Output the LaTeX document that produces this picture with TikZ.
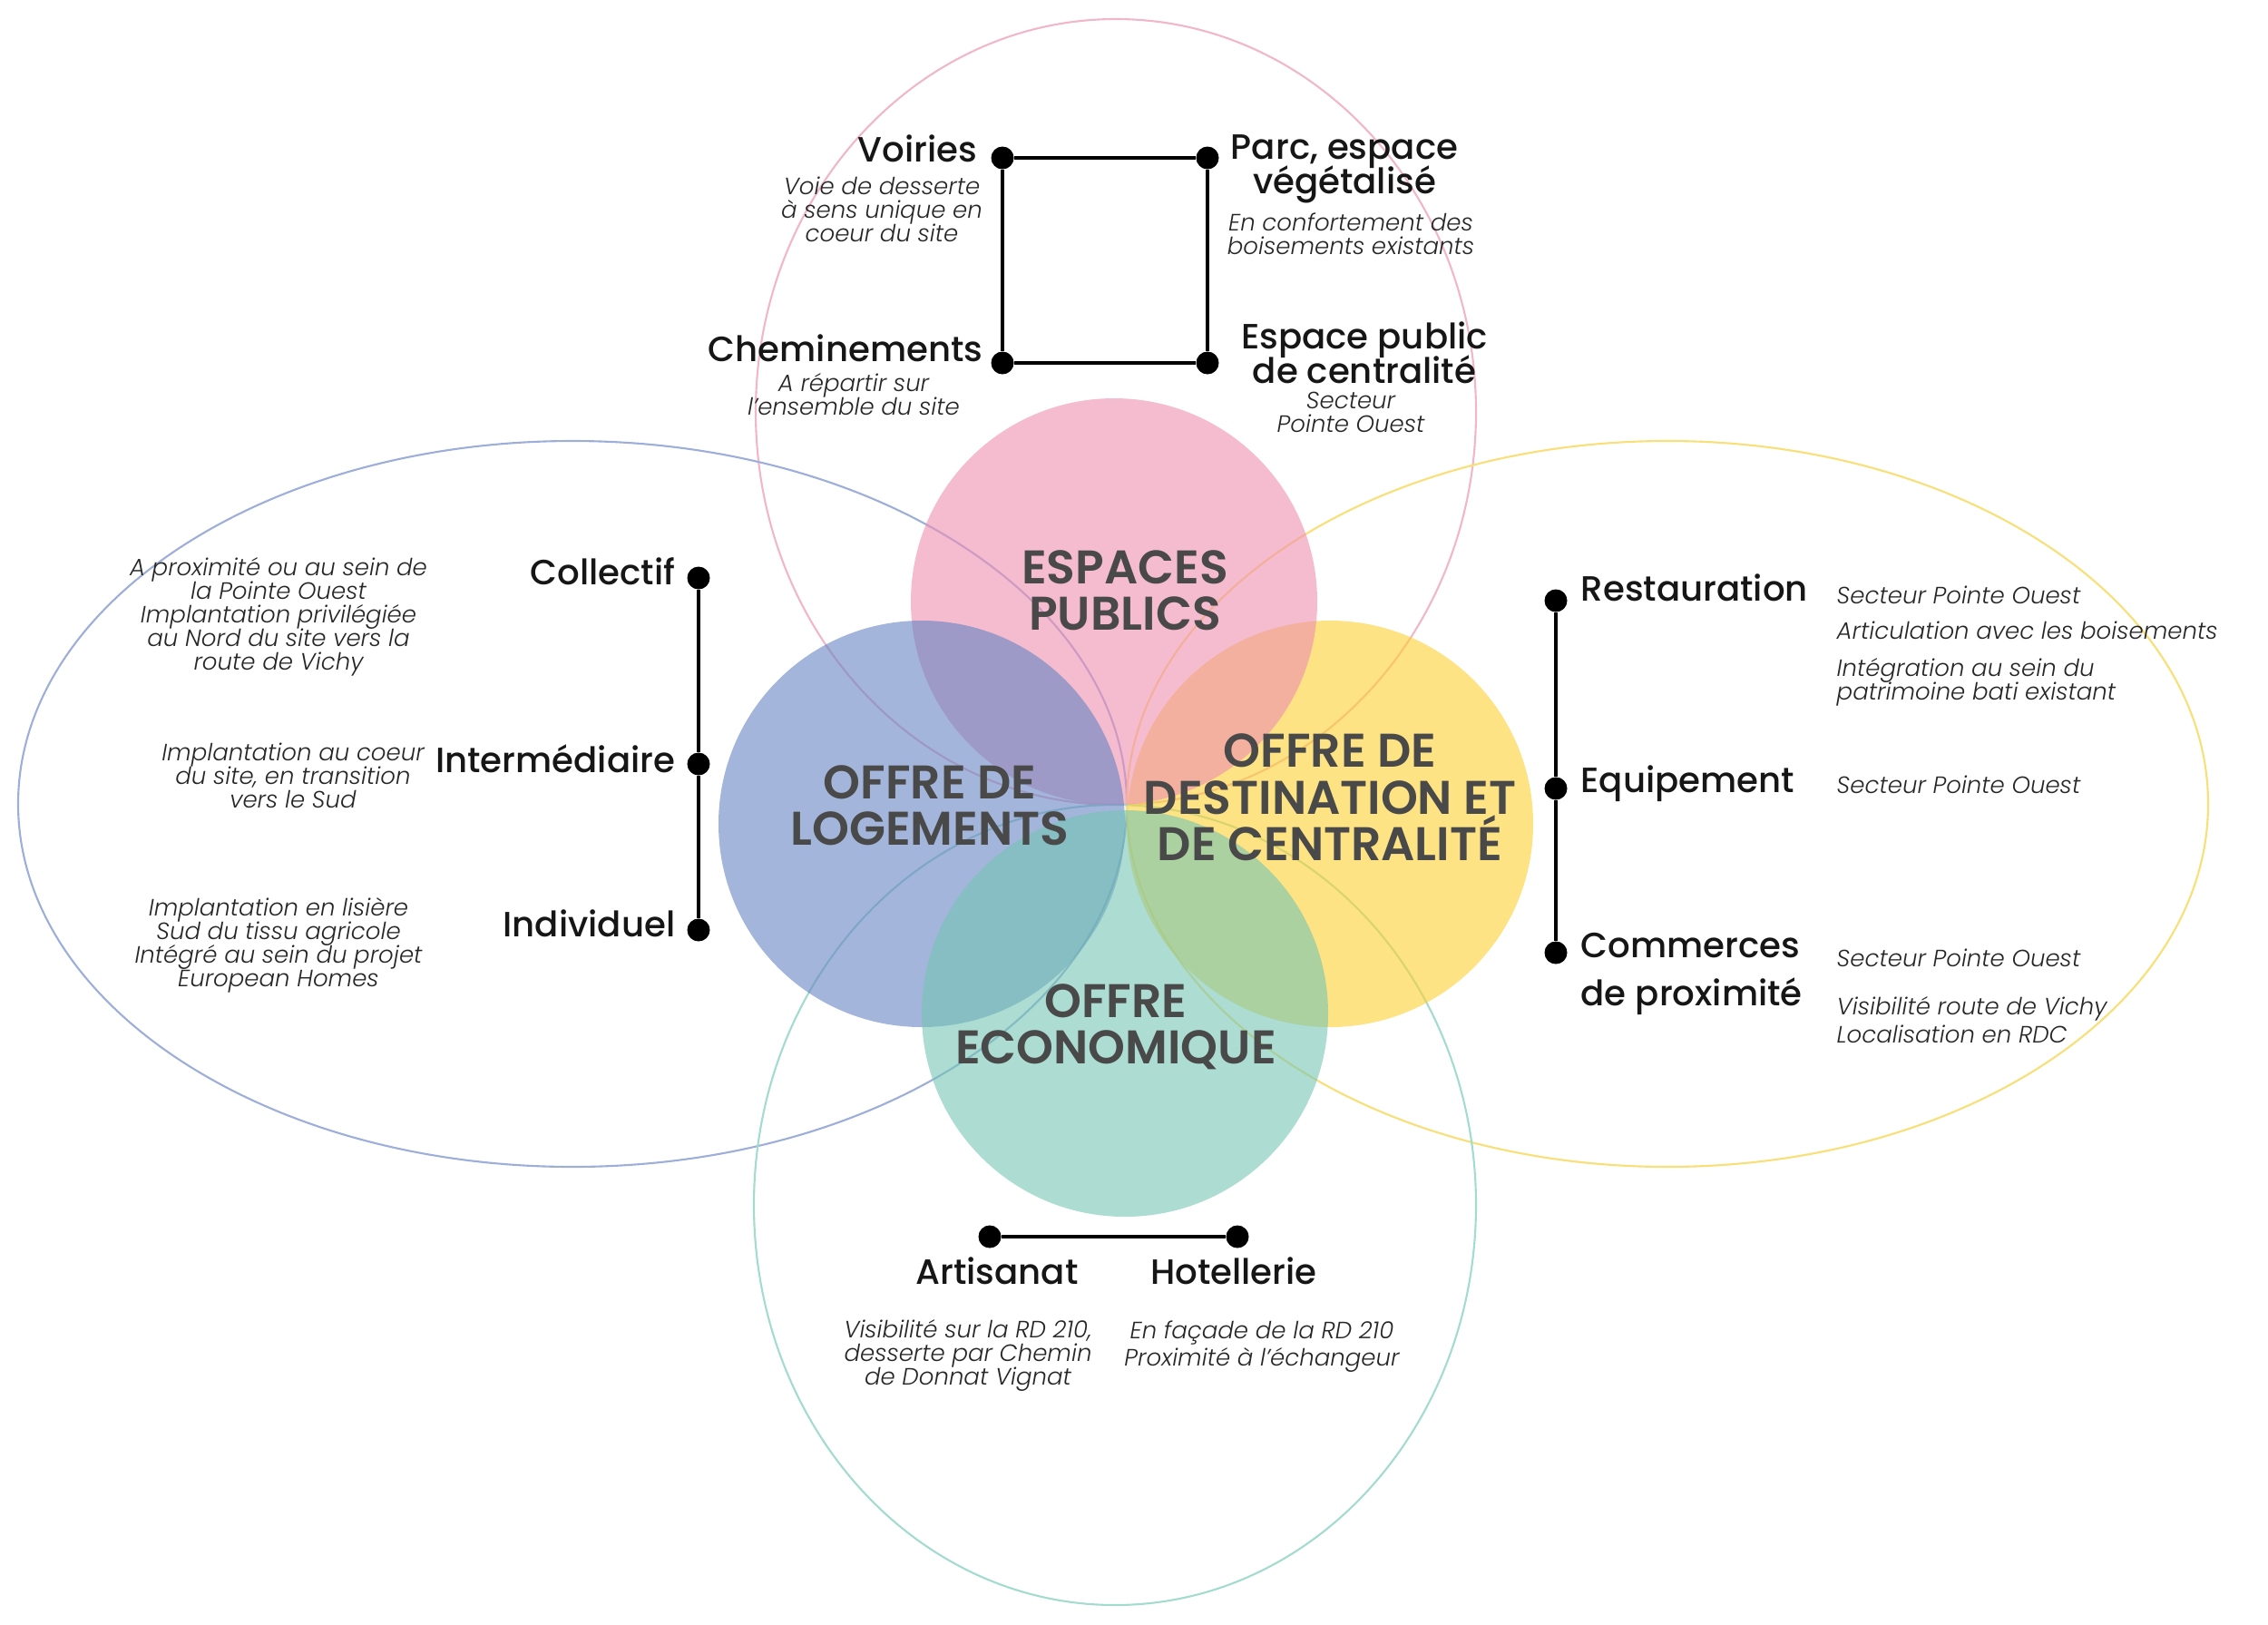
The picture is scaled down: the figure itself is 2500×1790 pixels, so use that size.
\documentclass[tikz,border=0pt]{standalone}
\usepackage{fontspec}
\setmainfont{Poppins}
\newfontfamily\pmed{Poppins Medium}
\newfontfamily\psemi{Poppins SemiBold}
\newfontfamily\plit{Poppins Light Italic}
\definecolor{cpink}{HTML}{EE8FB1}
\definecolor{cblue}{HTML}{6684C1}
\definecolor{cyellow}{HTML}{FCD030}
\definecolor{cteal}{HTML}{75C5B4}
\definecolor{lpink}{HTML}{F2B6CA}
\definecolor{lblue}{HTML}{9CAED9}
\definecolor{lyellow}{HTML}{F8DF78}
\definecolor{lteal}{HTML}{A3DBCE}
\definecolor{titlegray}{HTML}{494949}
\definecolor{ink}{HTML}{161616}
\definecolor{soft}{HTML}{262626}
\newcommand\tightlines{\lineskiplimit=-100pt\relax}
\tikzset{
  outl/.style={line width=0.6pt},
  disc/.style={fill opacity=0.6, draw=none},
  titlebox/.style={inner sep=0pt, align=center, text=titlegray, font=\psemi\fontsize{14.8}{14.6}\selectfont\tightlines},
  headbox/.style={inner sep=0pt, text=ink, font=\pmed\fontsize{11}{10.9}\selectfont\tightlines},
  descbox/.style={inner sep=0pt, text=soft, font=\plit\fontsize{7.4}{7.4}\selectfont\tightlines},
  dot/.style={circle, fill=black, inner sep=0pt, minimum size=0.25cm},
  bar/.style={line width=1.3pt, black}
}
\begin{document}
\begin{tikzpicture}[x=0.01cm, y=-0.01cm]
\useasboundingbox (0,0) rectangle (2500,1790);
% outline ellipses
\draw[outl, lpink] (1230,454) ellipse [x radius=397, y radius=433];
\draw[outl, lblue] (631,886) ellipse [x radius=611, y radius=400];
\draw[outl, lyellow] (1838,886) ellipse [x radius=596, y radius=400];
\draw[outl, lteal] (1229,1328) ellipse [x radius=398, y radius=441];
% discs
\fill[disc, cyellow] (1466,908) circle [radius=224];
\fill[disc, cpink] (1228,663) circle [radius=224];
\fill[disc, cblue] (1016,908) circle [radius=224];
\fill[disc, cteal] (1240,1117) circle [radius=224];
% titles
\node[titlebox] (tEP) at (1240,651) {ESPACES\\PUBLICS};
\node[titlebox] (tLO) at (1025,888) {OFFRE DE\\LOGEMENTS};
\node[titlebox] (tDE) at (1466,879) {OFFRE DE\\DESTINATION ET\\DE CENTRALITÉ};
\node[titlebox] (tEC) at (1230,1132) {OFFRE\\ECONOMIQUE};
% top square
\node[dot] (dV) at (1105,174) {};
\node[dot] (dP) at (1331,174) {};
\node[dot] (dC) at (1105,400) {};
\node[dot] (dE) at (1331,400) {};
\draw[bar] (dV) -- (dP);
\draw[bar] (dV) -- (dC);
\draw[bar] (dP) -- (dE);
\draw[bar] (dC) -- (dE);
\node[headbox, anchor=base east] (hV) at (1078,178) {Voiries};
\node[descbox, align=center] (sV) at (972,231) {Voie de desserte\\à sens unique en\\coeur du site};
\node[headbox, align=center] (hP) at (1482,186) {Parc, espace\\végétalisé};
\node[descbox, align=center] (sP) at (1489,258) {En confortement des\\boisements existants};
\node[headbox, align=center] (hE) at (1504,389) {Espace public\\de centralité};
\node[headbox, anchor=base east] (hC) at (1084,398) {Cheminements};
\node[descbox, align=center] (sC) at (941,435) {A répartir sur\\l’ensemble du site};
\node[descbox, align=center] (sE) at (1489,454) {Secteur\\Pointe Ouest};
% left column
\node[dot] (dCo) at (770,637) {};
\node[dot] (dIn) at (770,842) {};
\node[dot] (dId) at (770,1025) {};
\draw[bar] (dCo) -- (dIn);
\draw[bar] (dIn) -- (dId);
\node[headbox, anchor=base east] (hCo) at (745,644) {Collectif};
\node[headbox, anchor=base east] (hIn) at (745,851) {Intermédiaire};
\node[headbox, anchor=base east] (hId) at (745,1032) {Individuel};
\node[descbox, align=center] (sCo) at (307,680) {A proximité ou au sein de\\la Pointe Ouest\\Implantation privilégiée\\au Nord du site vers la\\route de Vichy};
\node[descbox, align=center] (sIn) at (323,855) {Implantation au coeur\\du site, en transition\\vers le Sud};
\node[descbox, align=center] (sId) at (307,1042) {Implantation en lisière\\Sud du tissu agricole\\Intégré au sein du projet\\European Homes};
% right column
\node[dot] (dRe) at (1715,662) {};
\node[dot] (dEq) at (1715,869) {};
\node[dot] (dCm) at (1715,1050) {};
\draw[bar] (dRe) -- (dEq);
\draw[bar] (dEq) -- (dCm);
\node[headbox, anchor=base west] (hRe) at (1742,662) {Restauration};
\node[headbox, anchor=base west] (hEq) at (1742,873) {Equipement};
\node[headbox, anchor=base west, align=left, font=\pmed\fontsize{11}{15}\selectfont\tightlines] (hCm) at (1742,1108) {Commerces\\de proximité};
\node[descbox, anchor=base west] (sRe1) at (2024,665) {Secteur Pointe Ouest};
\node[descbox, anchor=base west] (sRe2) at (2024,704) {Articulation avec les boisements};
\node[descbox, anchor=west, align=left] (sRe3) at (2024,752) {Intégration au sein du\\patrimoine bati existant};
\node[descbox, anchor=base west] (sEq) at (2024,874) {Secteur Pointe Ouest};
\node[descbox, anchor=base west] (sCm1) at (2024,1065) {Secteur Pointe Ouest};
\node[descbox, anchor=west, align=left, font=\plit\fontsize{7.4}{8.8}\selectfont\tightlines] (sCm2) at (2024,1124) {Visibilité route de Vichy\\Localisation en RDC};
% bottom
\node[dot] (dAr) at (1091,1363) {};
\node[dot] (dHo) at (1364,1363) {};
\draw[bar] (dAr) -- (dHo);
\node[headbox, anchor=base] (hAr) at (1099,1415) {Artisanat};
\node[headbox, anchor=base] (hHo) at (1360,1415) {Hotellerie};
\node[descbox, align=center] (sAr) at (1067,1494) {Visibilité sur la RD 210,\\desserte par Chemin\\de Donnat Vignat};
\node[descbox, align=center, font=\plit\fontsize{7.4}{8.6}\selectfont\tightlines] (sHo) at (1391,1484) {En façade de la RD 210\\Proximité à l’échangeur};
\end{tikzpicture}
\end{document}
